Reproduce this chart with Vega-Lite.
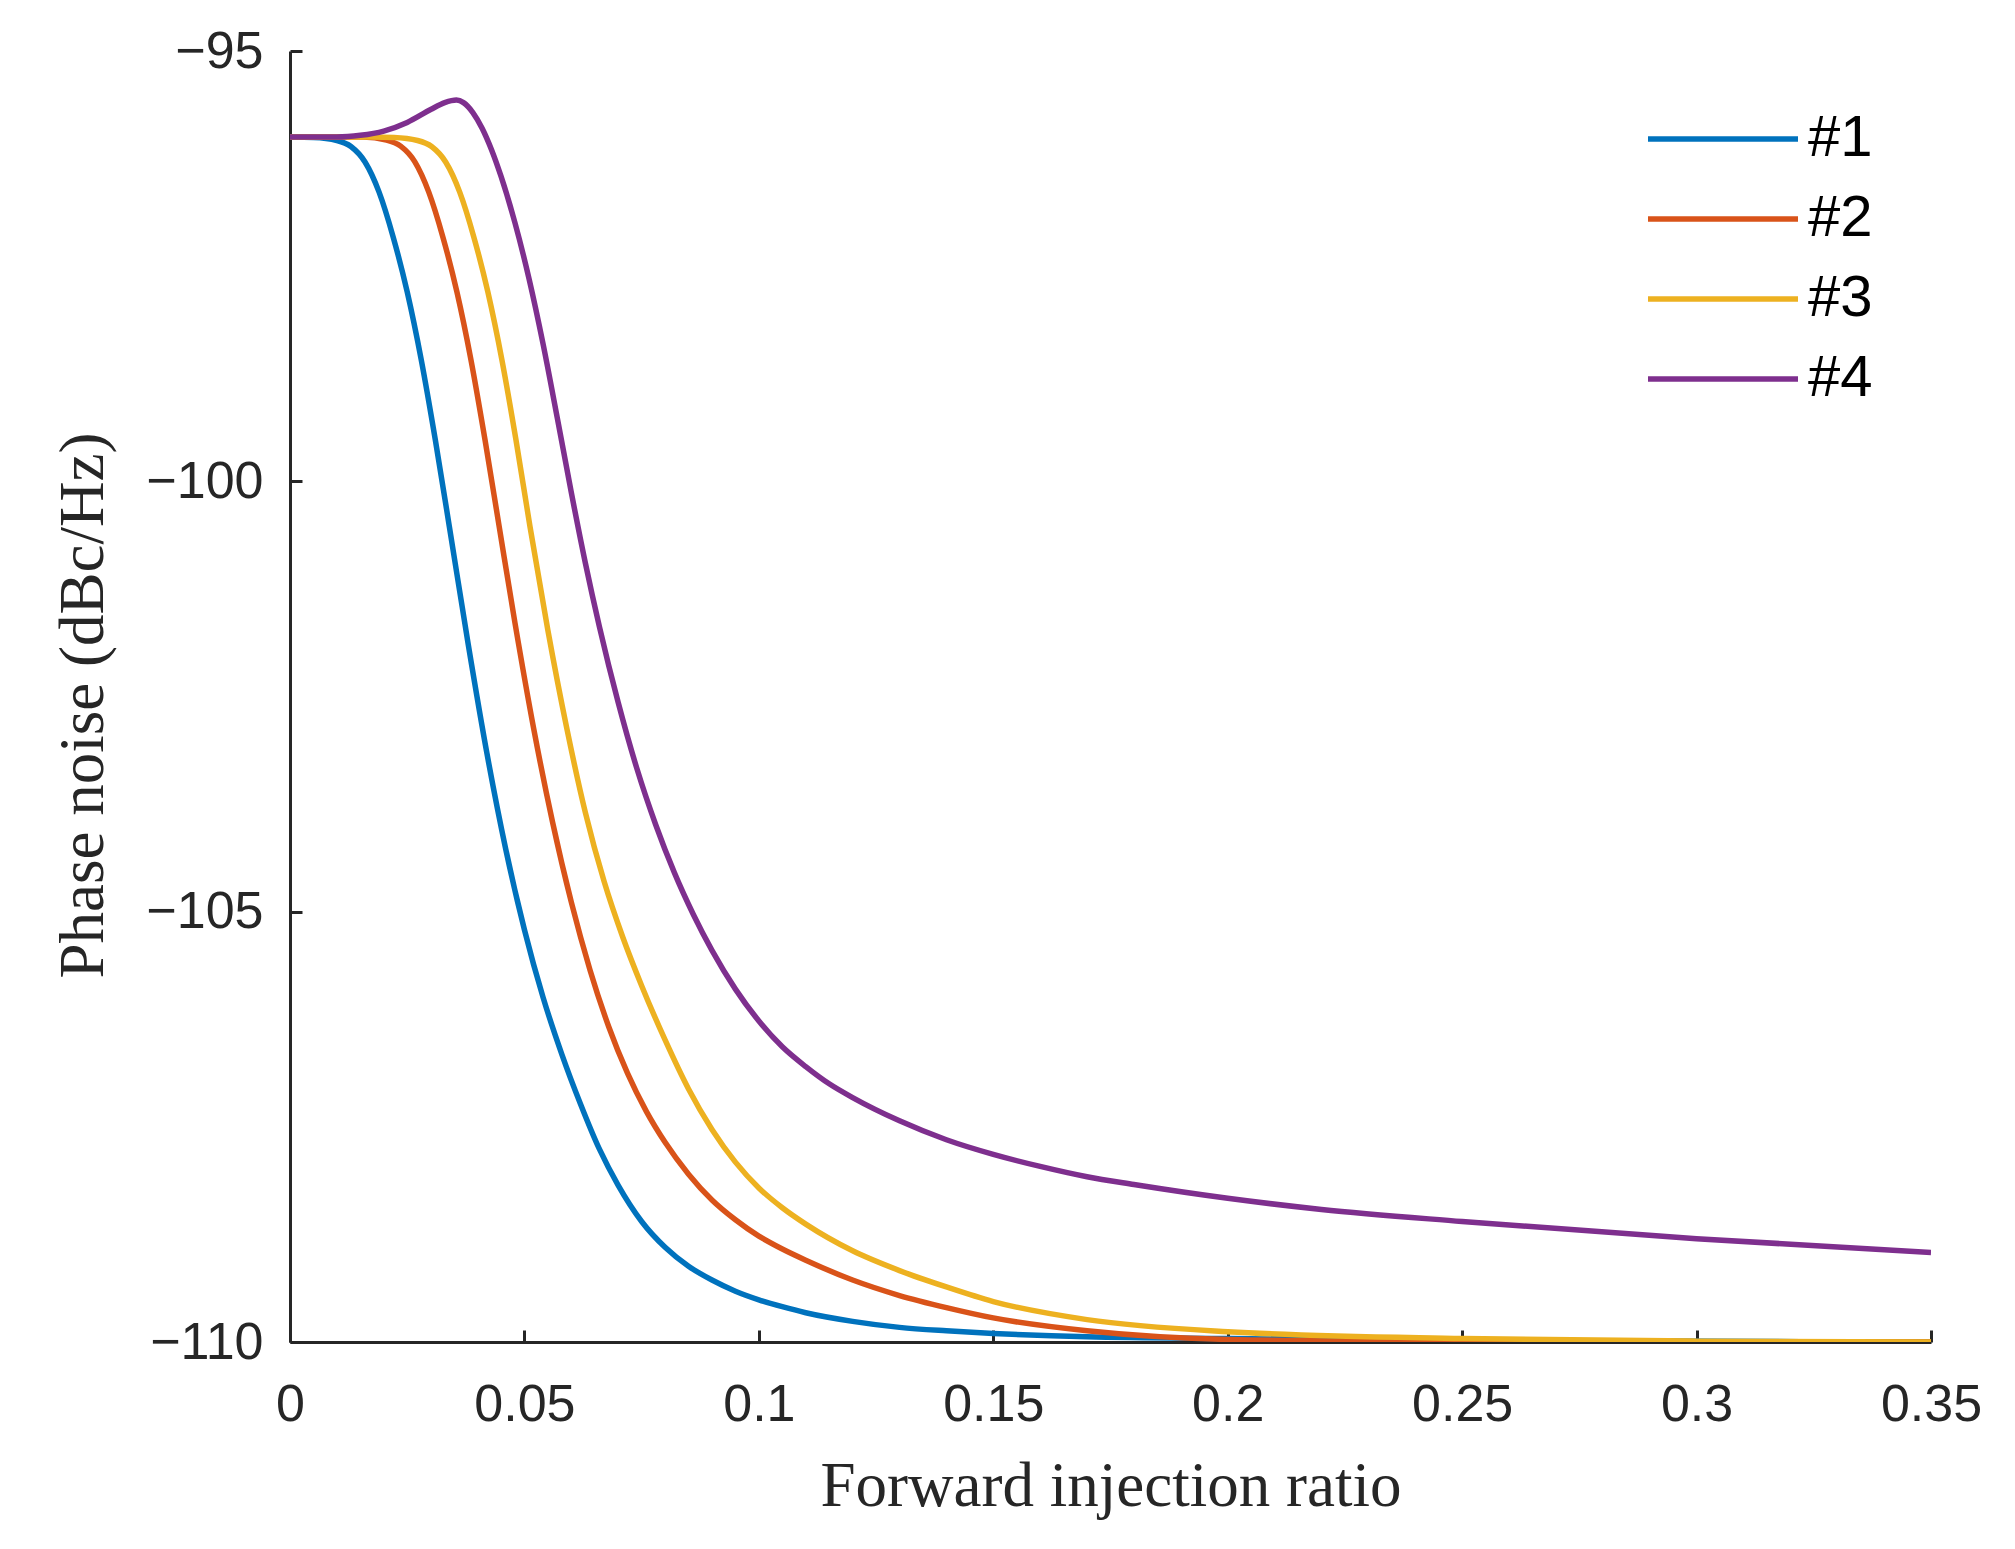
{
  "$schema": "https://vega.github.io/schema/vega-lite/v6.json",
  "autosize": "none",
  "width": 1641,
  "height": 1291,
  "padding": {"left": 290, "top": 51, "right": 84, "bottom": 207},
  "background": "white",
  "config": {
    "view": {"stroke": null},
    "axis": {
      "domainColor": "#262626",
      "domainWidth": 3,
      "tickColor": "#262626",
      "tickWidth": 3,
      "tickSize": -12,
      "grid": false,
      "labelFont": "Liberation Sans",
      "labelFontSize": 52,
      "labelColor": "#262626",
      "titleFont": "Liberation Serif",
      "titleFontSize": 63,
      "titleFontWeight": "normal",
      "titleColor": "#262626"
    }
  },
  "data": {
    "values": [
      {"x": 0, "pn": -96.0, "s": "#1"},
      {"x": 0.005, "pn": -96.005, "s": "#1"},
      {"x": 0.01, "pn": -96.04, "s": "#1"},
      {"x": 0.013, "pn": -96.11, "s": "#1"},
      {"x": 0.016, "pn": -96.29, "s": "#1"},
      {"x": 0.019, "pn": -96.64, "s": "#1"},
      {"x": 0.022, "pn": -97.16, "s": "#1"},
      {"x": 0.025, "pn": -97.8, "s": "#1"},
      {"x": 0.028, "pn": -98.59, "s": "#1"},
      {"x": 0.031, "pn": -99.52, "s": "#1"},
      {"x": 0.034, "pn": -100.53, "s": "#1"},
      {"x": 0.038, "pn": -101.89, "s": "#1"},
      {"x": 0.042, "pn": -103.16, "s": "#1"},
      {"x": 0.046, "pn": -104.27, "s": "#1"},
      {"x": 0.05, "pn": -105.21, "s": "#1"},
      {"x": 0.054, "pn": -106.0, "s": "#1"},
      {"x": 0.058, "pn": -106.66, "s": "#1"},
      {"x": 0.062, "pn": -107.24, "s": "#1"},
      {"x": 0.066, "pn": -107.76, "s": "#1"},
      {"x": 0.07, "pn": -108.18, "s": "#1"},
      {"x": 0.075, "pn": -108.6, "s": "#1"},
      {"x": 0.08, "pn": -108.9, "s": "#1"},
      {"x": 0.085, "pn": -109.12, "s": "#1"},
      {"x": 0.09, "pn": -109.28, "s": "#1"},
      {"x": 0.095, "pn": -109.41, "s": "#1"},
      {"x": 0.1, "pn": -109.51, "s": "#1"},
      {"x": 0.105, "pn": -109.59, "s": "#1"},
      {"x": 0.11, "pn": -109.66, "s": "#1"},
      {"x": 0.12, "pn": -109.76, "s": "#1"},
      {"x": 0.13, "pn": -109.83, "s": "#1"},
      {"x": 0.14, "pn": -109.87, "s": "#1"},
      {"x": 0.15, "pn": -109.9, "s": "#1"},
      {"x": 0.17, "pn": -109.94, "s": "#1"},
      {"x": 0.2, "pn": -109.96, "s": "#1"},
      {"x": 0.25, "pn": -109.98, "s": "#1"},
      {"x": 0.35, "pn": -110.0, "s": "#1"},

      {"x": 0, "pn": -96.0, "s": "#2"},
      {"x": 0.01, "pn": -96.0, "s": "#2"},
      {"x": 0.0156, "pn": -96.0, "s": "#2"},
      {"x": 0.0206, "pn": -96.035, "s": "#2"},
      {"x": 0.0236, "pn": -96.105, "s": "#2"},
      {"x": 0.0266, "pn": -96.285, "s": "#2"},
      {"x": 0.0296, "pn": -96.64, "s": "#2"},
      {"x": 0.0326, "pn": -97.16, "s": "#2"},
      {"x": 0.0356, "pn": -97.8, "s": "#2"},
      {"x": 0.0386, "pn": -98.59, "s": "#2"},
      {"x": 0.0416, "pn": -99.52, "s": "#2"},
      {"x": 0.0446, "pn": -100.52, "s": "#2"},
      {"x": 0.048, "pn": -101.65, "s": "#2"},
      {"x": 0.052, "pn": -102.88, "s": "#2"},
      {"x": 0.056, "pn": -103.96, "s": "#2"},
      {"x": 0.06, "pn": -104.89, "s": "#2"},
      {"x": 0.064, "pn": -105.68, "s": "#2"},
      {"x": 0.068, "pn": -106.34, "s": "#2"},
      {"x": 0.072, "pn": -106.88, "s": "#2"},
      {"x": 0.076, "pn": -107.32, "s": "#2"},
      {"x": 0.08, "pn": -107.68, "s": "#2"},
      {"x": 0.085, "pn": -108.05, "s": "#2"},
      {"x": 0.09, "pn": -108.35, "s": "#2"},
      {"x": 0.095, "pn": -108.58, "s": "#2"},
      {"x": 0.1, "pn": -108.77, "s": "#2"},
      {"x": 0.105, "pn": -108.92, "s": "#2"},
      {"x": 0.11, "pn": -109.05, "s": "#2"},
      {"x": 0.12, "pn": -109.28, "s": "#2"},
      {"x": 0.13, "pn": -109.46, "s": "#2"},
      {"x": 0.14, "pn": -109.6, "s": "#2"},
      {"x": 0.15, "pn": -109.72, "s": "#2"},
      {"x": 0.17, "pn": -109.87, "s": "#2"},
      {"x": 0.2, "pn": -109.97, "s": "#2"},
      {"x": 0.25, "pn": -110.0, "s": "#2"},
      {"x": 0.35, "pn": -110.0, "s": "#2"},

      {"x": 0, "pn": -96.0, "s": "#3"},
      {"x": 0.01, "pn": -96.0, "s": "#3"},
      {"x": 0.0172, "pn": -96.0, "s": "#3"},
      {"x": 0.0222, "pn": -96.005, "s": "#3"},
      {"x": 0.0272, "pn": -96.04, "s": "#3"},
      {"x": 0.0302, "pn": -96.11, "s": "#3"},
      {"x": 0.0332, "pn": -96.29, "s": "#3"},
      {"x": 0.0362, "pn": -96.64, "s": "#3"},
      {"x": 0.0392, "pn": -97.16, "s": "#3"},
      {"x": 0.0422, "pn": -97.8, "s": "#3"},
      {"x": 0.0452, "pn": -98.59, "s": "#3"},
      {"x": 0.0482, "pn": -99.52, "s": "#3"},
      {"x": 0.0512, "pn": -100.53, "s": "#3"},
      {"x": 0.055, "pn": -101.73, "s": "#3"},
      {"x": 0.059, "pn": -102.86, "s": "#3"},
      {"x": 0.063, "pn": -103.85, "s": "#3"},
      {"x": 0.067, "pn": -104.65, "s": "#3"},
      {"x": 0.071, "pn": -105.3, "s": "#3"},
      {"x": 0.075, "pn": -105.86, "s": "#3"},
      {"x": 0.08, "pn": -106.49, "s": "#3"},
      {"x": 0.085, "pn": -107.06, "s": "#3"},
      {"x": 0.09, "pn": -107.53, "s": "#3"},
      {"x": 0.095, "pn": -107.91, "s": "#3"},
      {"x": 0.1, "pn": -108.21, "s": "#3"},
      {"x": 0.105, "pn": -108.44, "s": "#3"},
      {"x": 0.11, "pn": -108.63, "s": "#3"},
      {"x": 0.12, "pn": -108.94, "s": "#3"},
      {"x": 0.13, "pn": -109.17, "s": "#3"},
      {"x": 0.14, "pn": -109.36, "s": "#3"},
      {"x": 0.15, "pn": -109.53, "s": "#3"},
      {"x": 0.17, "pn": -109.74, "s": "#3"},
      {"x": 0.2, "pn": -109.88, "s": "#3"},
      {"x": 0.25, "pn": -109.96, "s": "#3"},
      {"x": 0.3, "pn": -109.99, "s": "#3"},
      {"x": 0.35, "pn": -110.0, "s": "#3"},

      {"x": 0, "pn": -96.0, "s": "#4"},
      {"x": 0.01, "pn": -96.0, "s": "#4"},
      {"x": 0.015, "pn": -95.98, "s": "#4"},
      {"x": 0.02, "pn": -95.93, "s": "#4"},
      {"x": 0.025, "pn": -95.83, "s": "#4"},
      {"x": 0.03, "pn": -95.68, "s": "#4"},
      {"x": 0.033, "pn": -95.6, "s": "#4"},
      {"x": 0.0355, "pn": -95.57, "s": "#4"},
      {"x": 0.037, "pn": -95.6, "s": "#4"},
      {"x": 0.039, "pn": -95.715, "s": "#4"},
      {"x": 0.041, "pn": -95.9, "s": "#4"},
      {"x": 0.043, "pn": -96.15, "s": "#4"},
      {"x": 0.045, "pn": -96.455, "s": "#4"},
      {"x": 0.048, "pn": -97.0, "s": "#4"},
      {"x": 0.051, "pn": -97.65, "s": "#4"},
      {"x": 0.054, "pn": -98.41, "s": "#4"},
      {"x": 0.057, "pn": -99.26, "s": "#4"},
      {"x": 0.06, "pn": -100.13, "s": "#4"},
      {"x": 0.063, "pn": -100.95, "s": "#4"},
      {"x": 0.066, "pn": -101.69, "s": "#4"},
      {"x": 0.07, "pn": -102.57, "s": "#4"},
      {"x": 0.074, "pn": -103.34, "s": "#4"},
      {"x": 0.078, "pn": -103.99, "s": "#4"},
      {"x": 0.082, "pn": -104.55, "s": "#4"},
      {"x": 0.086, "pn": -105.03, "s": "#4"},
      {"x": 0.09, "pn": -105.45, "s": "#4"},
      {"x": 0.095, "pn": -105.9, "s": "#4"},
      {"x": 0.1, "pn": -106.27, "s": "#4"},
      {"x": 0.105, "pn": -106.57, "s": "#4"},
      {"x": 0.11, "pn": -106.8, "s": "#4"},
      {"x": 0.115, "pn": -107.0, "s": "#4"},
      {"x": 0.12, "pn": -107.16, "s": "#4"},
      {"x": 0.13, "pn": -107.43, "s": "#4"},
      {"x": 0.14, "pn": -107.65, "s": "#4"},
      {"x": 0.15, "pn": -107.82, "s": "#4"},
      {"x": 0.16, "pn": -107.96, "s": "#4"},
      {"x": 0.17, "pn": -108.08, "s": "#4"},
      {"x": 0.18, "pn": -108.17, "s": "#4"},
      {"x": 0.2, "pn": -108.33, "s": "#4"},
      {"x": 0.22, "pn": -108.46, "s": "#4"},
      {"x": 0.25, "pn": -108.6, "s": "#4"},
      {"x": 0.3, "pn": -108.8, "s": "#4"},
      {"x": 0.35, "pn": -108.96, "s": "#4"}
    ]
  },
  "mark": {"type": "line", "strokeWidth": 5.5, "interpolate": "monotone", "clip": true},
  "encoding": {
    "x": {
      "field": "x",
      "type": "quantitative",
      "scale": {"domain": [0, 0.35], "nice": false, "zero": false},
      "axis": {
        "title": "Forward injection ratio",
        "values": [0, 0.05, 0.1, 0.15, 0.2, 0.25, 0.3, 0.35],
        "format": "~g",
        "labelPadding": 49,
        "labelFlush": false,
        "titleY": 163,
        "titleBaseline": "alphabetic"
      }
    },
    "y": {
      "field": "pn",
      "type": "quantitative",
      "scale": {"domain": [-110, -95], "nice": false, "zero": false},
      "axis": {
        "title": "Phase noise (dBc/Hz)",
        "values": [-95, -100, -105, -110],
        "labelPadding": 39,
        "labelFlush": false,
        "titleX": -188,
        "titleY": 654,
        "titleBaseline": "alphabetic",
        "titleAngle": -90
      }
    },
    "color": {
      "field": "s",
      "type": "nominal",
      "scale": {
        "domain": ["#1", "#2", "#3", "#4"],
        "range": ["#0072BD", "#D95319", "#EDB120", "#7E2F8E"]
      },
      "legend": {
        "title": null,
        "orient": "none",
        "legendX": 1355,
        "legendY": 48,
        "padding": 0,
        "symbolType": "stroke",
        "symbolSize": 22500,
        "symbolStrokeWidth": 5.5,
        "labelFont": "Liberation Sans",
        "labelFontSize": 58,
        "labelColor": "#000000",
        "labelOffset": 7,
        "clipHeight": 80,
        "rowPadding": 0
      }
    }
  }
}
